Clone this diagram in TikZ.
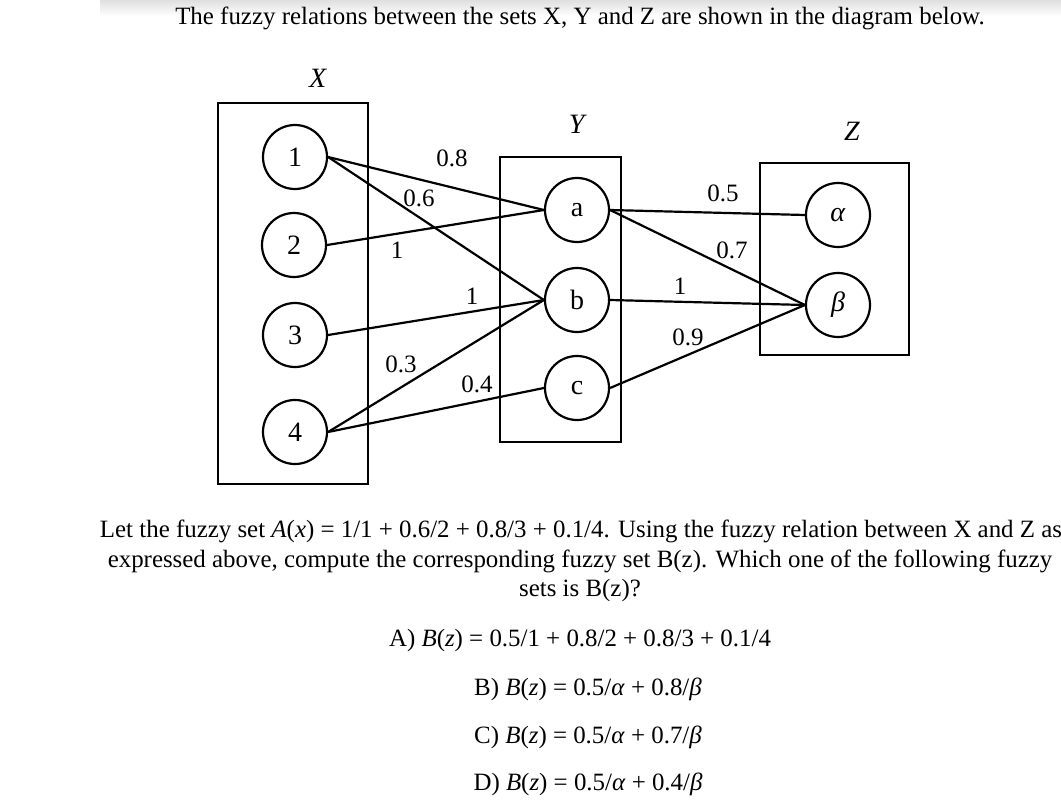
\documentclass[tikz,border=0pt]{standalone}
\usepackage{fontspec}
\setmainfont{Liberation Serif}
\begin{document}
\begin{tikzpicture}[x=1pt,y=-1pt,
  el/.style={circle,draw,line width=2.2pt,minimum size=64pt,inner sep=0pt,font=\fontsize{28}{30}\selectfont},
  setbox/.style={draw,line width=2.4pt},
  edge/.style={line width=2.2pt},
  lab/.style={font=\fontsize{25}{28}\selectfont,inner sep=0pt},
  txt/.style={font=\fontsize{24.9}{28}\selectfont,inner sep=0pt}]
\useasboundingbox (0,0) rectangle (1061,800);
\shade[top color=gray!25,bottom color=white] (100,0) rectangle (1061,16);
\node[txt] (title) at (580,18) {The fuzzy relations between the sets X, Y and Z are shown in the diagram below.};
% boxes
\draw[setbox] (218,103) rectangle (368,484);
\draw[setbox] (500,157) rectangle (621,442);
\draw[setbox] (760,163) rectangle (909,355);
\node[lab] (lx) at (318,78) {\fontsize{28}{30}\selectfont\textit{X}};
\node[lab] (ly) at (578,124) {\fontsize{28}{30}\selectfont\textit{Y}};
\node[lab] (lz) at (852,131) {\fontsize{28}{30}\selectfont\textit{Z}};
% nodes
\node[el] (x1) at (295,157) {1};
\node[el] (x2) at (294,245) {2};
\node[el] (x3) at (295,335) {3};
\node[el] (x4) at (295,432) {4};
\node[el] (ya) at (577,210) {a};
\node[el] (yb) at (577,300) {b};
\node[el] (yc) at (577,388) {c};
\node[el] (za) at (838,215) {\textit{α}};
\node[el] (zb) at (838,305) {\textit{β}};
% edges
\draw[edge] (x1.east) -- (ya.west);
\draw[edge] (x1.east) -- (yb.west);
\draw[edge] (x2.east) -- (ya.west);
\draw[edge] (x3.east) -- (yb.west);
\draw[edge] (x4.east) -- (yb.west);
\draw[edge] (x4.east) -- (yc.west);
\draw[edge] (ya.east) -- (za.west);
\draw[edge] (ya.east) -- (zb.west);
\draw[edge] (yb.east) -- (zb.west);
\draw[edge] (yc.east) -- (zb.west);
% edge labels
\node[lab] (w1) at (452,158) {0.8};
\node[lab] (w2) at (419,198) {0.6};
\node[lab] (w3) at (397,250) {1};
\node[lab] (w4) at (472,296) {1};
\node[lab] (w5) at (401,364) {0.3};
\node[lab] (w6) at (477,384) {0.4};
\node[lab] (w7) at (723,193) {0.5};
\node[lab] (w8) at (732,250) {0.7};
\node[lab] (w9) at (680,286) {1};
\node[lab] (w10) at (688,337) {0.9};
% text
\node[txt] (q1) at (581,531) {Let the fuzzy set \textit{A}(\textit{x}) = 1/1 + 0.6/2 + 0.8/3 + 0.1/4. Using the fuzzy relation between X and Z as};
\node[txt] (q2) at (580,561) {expressed above, compute the corresponding fuzzy set B(z). Which one of the following fuzzy};
\node[txt] (q3) at (580,591) {sets is B(z)?};
\node[txt] (oa) at (580,641) {A) \textit{B}(\textit{z}) = 0.5/1 + 0.8/2 + 0.8/3 + 0.1/4};
\node[txt] (ob) at (588,689) {B) \textit{B}(\textit{z}) = 0.5/\textit{α} + 0.8/\textit{β}};
\node[txt] (oc) at (588,737) {C) \textit{B}(\textit{z}) = 0.5/\textit{α} + 0.7/\textit{β}};
\node[txt] (od) at (588,784) {D) \textit{B}(\textit{z}) = 0.5/\textit{α} + 0.4/\textit{β}};
\end{tikzpicture}
\end{document}
